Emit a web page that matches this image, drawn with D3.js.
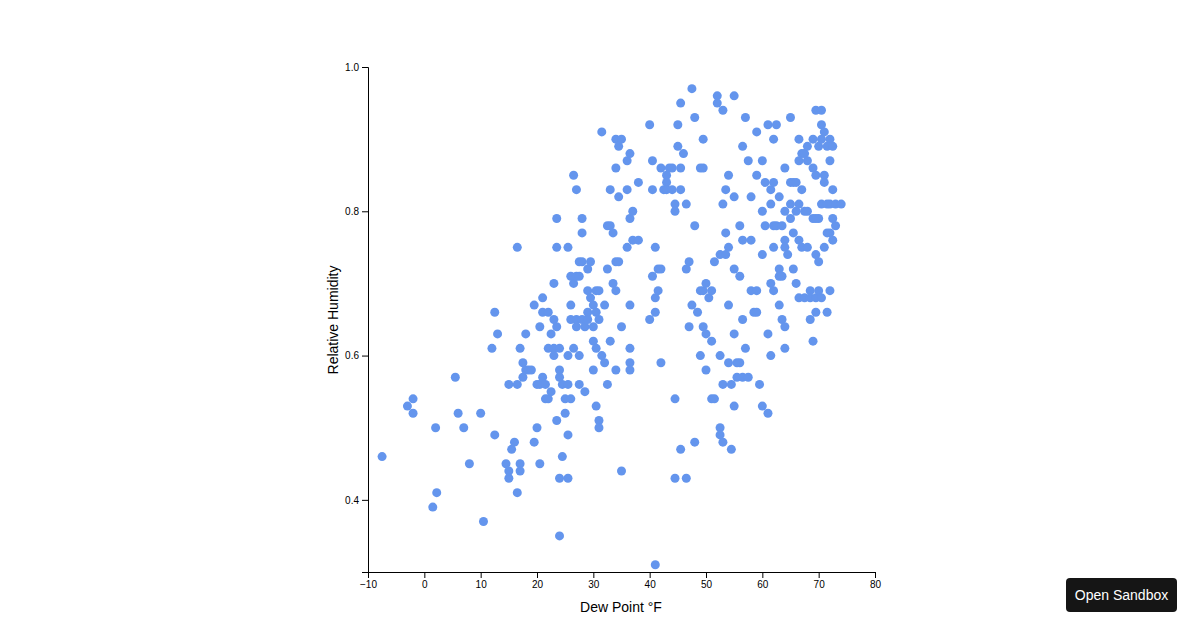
<!DOCTYPE html>
<html><head><meta charset="utf-8">
<script src="https://cdn.jsdelivr.net/npm/d3@7"></script>
<style>body{margin:0;background:#fff;font-family:"Liberation Sans",Arial,sans-serif}
#btn{position:absolute;left:1066px;top:578px;width:111px;height:34px;background:#151515;color:#fff;border-radius:4px;font-size:14px;line-height:34px;text-align:center;font-family:"Liberation Sans",Arial,sans-serif}</style>
</head><body><svg id="c" width="1200" height="630"></svg><div id="btn">Open Sandbox</div>
<script>
const dewPoint = [-7.5,-3,-2,-2,1.5,2,2.2,5.5,6,7,8,10,10.5,12,12.5,12.5,13,14.5,15,15,15,15.5,16,16.5,16.5,16.5,17,17,17,17.5,17.5,18,18,18.5,19,19.5,19.5,20,20,20.5,20.5,20.5,21,21,21,21.5,21.5,22,22,22,22.5,22.5,23,23,23,23,23.5,23.5,23.5,23.5,24,24,24,24,24,24.5,24.5,25,25,25.5,25.5,25.5,25.5,25.5,26,26,26,26,26.5,26.5,26.5,27,27,27,27,27.5,27.5,27.5,27.5,28,28,28,28,28.5,28.5,29,29,29,29,29.5,29.5,30,30,30,30,30.5,30.5,30.5,30.5,31,31,31,31,31.5,31.5,32,32,32.5,32.5,32.5,33,33,33,33.5,33.5,34,34,34,34,34,34.5,34.5,34.5,35,35,35,36,36,36,36.5,36.5,36.5,36.5,36.5,36.5,37,37,38,38,40,40,40.5,40.5,40.5,41,41,41,41,41.5,41.5,42,42,42,42.5,43,43,43,43.5,44,44,44.5,44.5,44.5,44.5,45,45,45.5,45.5,45.5,45.5,46,46.5,46.5,46.5,47,47,47.5,47.5,48,48,48,48.5,49,49,49,49.5,49.5,49.5,49.5,50,50,50,50.5,51,51,51,51.5,51.5,52,52,52.5,52.5,52.5,52.5,53,53,53,53,53.5,53.5,53.5,54,54,54,54,54.5,54.5,55,55,55,55,55,55.5,55.5,56,56,56,56.5,56.5,56.5,56.5,57,57,57.5,57.5,58,58,58,58.5,59,59,59,59,59.5,60,60,60,60,60.5,60.5,61,61,61,61.5,61.5,61.5,61.5,62,62,62,62,62,62.5,62.5,63,63,63,63,63.5,63.5,63.5,64,64,64,64,64,64,64.5,65,65,65,65,65.5,65.5,65.5,66,66,66,66.5,66.5,66.5,66.5,66.5,67,67,67,67.5,67.5,67.5,68,68,68,68,68.5,68.5,68.5,69,69,69,69,69.5,69.5,69.5,69.5,69.5,69.5,70,70,70,70,70.5,70.5,70.5,70.5,70.5,71,71,71,71,71.5,71.5,71.5,71.5,72,72,72,72,72,72.5,72.5,72.5,72.5,73,73,74];
const humidity = [.46,.53,.54,.52,.39,.50,.41,.57,.52,.50,.45,.52,.37,.61,.66,.49,.63,.45,.56,.43,.44,.47,.48,.41,.56,.75,.61,.44,.45,.59,.57,.63,.58,.58,.58,.67,.48,.56,.50,.64,.45,.56,.66,.68,.57,.54,.56,.66,.61,.54,.55,.63,.60,.61,.65,.70,.79,.75,.64,.51,.58,.57,.43,.35,.61,.56,.46,.54,.52,.75,.60,.56,.49,.43,.71,.67,.65,.54,.85,.70,.61,.83,.71,.65,.64,.73,.71,.60,.56,.79,.77,.73,.65,.55,.64,.72,.69,.66,.65,.73,.68,.67,.64,.62,.58,.69,.66,.61,.53,.69,.65,.51,.50,.91,.60,.67,.59,.78,.72,.56,.83,.78,.62,.77,.70,.90,.86,.73,.69,.58,.89,.82,.73,.90,.64,.44,.87,.75,.83,.88,.79,.67,.61,.59,.58,.80,.76,.84,.76,.92,.65,.87,.83,.71,.75,.68,.66,.31,.69,.72,.72,.59,.86,.83,.85,.84,.83,.86,.86,.83,.81,.80,.54,.43,.92,.89,.95,.86,.83,.47,.88,.81,.72,.43,.73,.64,.97,.67,.93,.78,.48,.66,.86,.69,.60,.90,.86,.64,.69,.70,.63,.58,.68,.69,.62,.54,.73,.54,.96,.95,.74,.60,.50,.49,.94,.81,.56,.48,.83,.77,.74,.85,.75,.67,.59,.56,.47,.96,.82,.72,.63,.53,.59,.57,.78,.71,.59,.89,.76,.65,.57,.93,.61,.87,.57,.69,.82,.76,.66,.91,.85,.69,.66,.56,.87,.80,.74,.53,.84,.78,.92,.63,.52,.83,.81,.70,.60,.90,.84,.78,.75,.69,.92,.78,.82,.72,.71,.67,.78,.71,.65,.86,.80,.76,.75,.64,.61,.74,.93,.84,.81,.79,.84,.77,.72,.84,.80,.70,.90,.87,.81,.76,.68,.88,.83,.75,.88,.80,.68,.89,.87,.80,.75,.69,.68,.65,.90,.86,.79,.62,.94,.85,.79,.74,.68,.66,.89,.79,.73,.69,.94,.92,.90,.81,.68,.91,.85,.84,.75,.89,.81,.77,.66,.90,.87,.81,.77,.69,.89,.83,.79,.76,.81,.78,.81];
const xTicks = [-10,0,10,20,30,40,50,60,70,80];
const yTicks = [0.4,0.6,0.8,1.0];

const svg = d3.select("#c");
const x = d3.scaleLinear().domain([-10,80]).range([368,875]);
const y = d3.scaleLinear().domain([0.3,1.0]).range([572,67]);
svg.append("g").attr("transform","translate(0,572)")
  .call(d3.axisBottom(x).tickValues(xTicks).tickFormat(d3.format("d")));
svg.append("g").attr("transform","translate(368,0)")
  .call(d3.axisLeft(y).tickValues(yTicks).tickFormat(d3.format(".1f")));
svg.append("g").selectAll("circle").data(dewPoint).join("circle")
  .attr("cx",d=>x(d)).attr("cy",(d,i)=>y(humidity[i])).attr("r",4.5)
  .attr("fill","#6495ED");
svg.append("text").attr("x",621).attr("y",612).attr("text-anchor","middle")
  .attr("font-size",14).text("Dew Point °F");
svg.append("text").attr("transform","translate(338,320) rotate(-90)").attr("text-anchor","middle")
  .attr("font-size",14).text("Relative Humidity");
</script></body></html>
